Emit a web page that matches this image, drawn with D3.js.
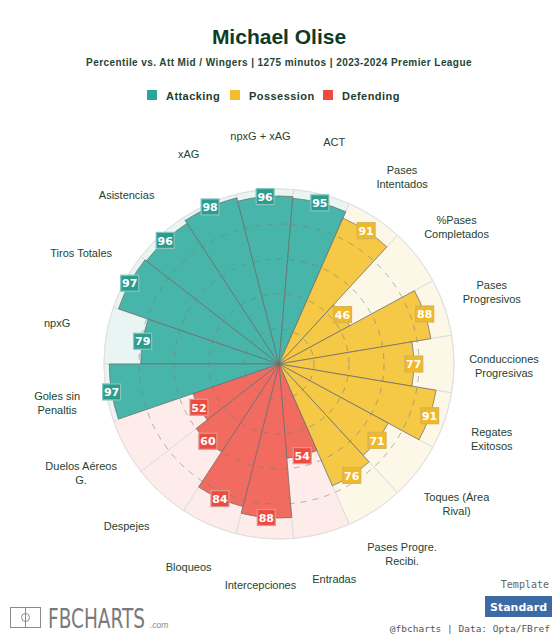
<!DOCTYPE html>
<html><head><meta charset="utf-8">
<script src="https://cdn.jsdelivr.net/npm/d3@7"></script>
<style>body{margin:0;background:#fff}svg{display:block}</style>
</head><body>
<svg id="c" width="558" height="640"></svg>
<script>
const title = "Michael Olise";
const subtitle = "Percentile vs. Att Mid / Wingers | 1275 minutos | 2023-2024 Premier League";
const groupNames = ["Attacking", "Possession", "Defending"];
// clockwise, starting at the left horizontal
const labels = ["npxG", "Tiros Totales", "Asistencias", "xAG", "npxG + xAG", "ACT",
  "Pases\nIntentados", "%Pases\nCompletados", "Pases\nProgresivos", "Conducciones\nProgresivas",
  "Regates\nExitosos", "Toques (Área\nRival)", "Pases Progre.\nRecibi.",
  "Entradas", "Intercepciones", "Bloqueos", "Despejes", "Duelos Aéreos\nG.", "Goles sin\nPenaltis"];
const values = [79, 97, 96, 98, 96, 95, 91, 46, 88, 77, 91, 71, 76, 54, 88, 84, 60, 52, 97];
const groups = ["Attacking","Attacking","Attacking","Attacking","Attacking","Attacking",
  "Possession","Possession","Possession","Possession","Possession","Possession","Possession",
  "Defending","Defending","Defending","Defending","Defending","Attacking"];
const gridTicks = [20, 40, 60, 80];

const legendColor = {Attacking:"#2aa59a", Possession:"#f3bd2c", Defending:"#f0493e"};
const barColor = {Attacking:"#48b5aa", Possession:"#f5c845", Defending:"#f26b60"};
const boxColor = {Attacking:"#2a9d8f", Possession:"#f1b928", Defending:"#ee4a3e"};
const boxStroke = {Attacking:"#86c4bc", Possession:"#d6b458", Defending:"#d99a93"};
const bgColor = {Attacking:"#e9f5f3", Possession:"#fdf7e7", Defending:"#fdecea"};

const svg = d3.select("#c");
const cx = 279, cy = 364, R = 175;
const idx = d3.range(labels.length);
const ang = d3.scaleBand().domain(idx).range([-Math.PI/2, 3*Math.PI/2]).padding(0);
const rad = d3.scaleLinear().domain([0, 100]).range([0, R]);

// Title
svg.append("text").attr("x", 279).attr("y", 44).attr("text-anchor","middle")
  .attr("font-family","Liberation Sans, Arial, sans-serif").attr("font-weight","bold")
  .attr("font-size", 21).attr("fill","#0f3b25").text(title);
svg.append("text").attr("x", 279).attr("y", 66).attr("text-anchor","middle")
  .attr("font-family","Liberation Sans, Arial, sans-serif").attr("font-weight","bold")
  .attr("font-size", 10).attr("letter-spacing", 0.42).attr("fill","#234635").text(subtitle);

// Legend
const legX = [147, 230, 323];
const lg = svg.append("g");
groupNames.forEach((g, i) => {
  lg.append("rect").attr("x", legX[i]).attr("y", 90).attr("width", 10).attr("height", 10).attr("fill", legendColor[g]);
  lg.append("text").attr("x", legX[i] + 19).attr("y", 99.5)
    .attr("font-family","Liberation Sans, Arial, sans-serif").attr("font-weight","bold")
    .attr("font-size", 11).attr("letter-spacing", 0.45).attr("fill","#1d3d2d").text(g);
});

const chart = svg.append("g").attr("transform", `translate(${cx},${cy})`);
const arc = d3.arc().innerRadius(0);
function wedge(i, r){
  return arc({startAngle: ang(i), endAngle: ang(i) + ang.bandwidth(), outerRadius: r});
}

chart.selectAll("path.bg").data(idx).join("path").attr("class","bg")
  .attr("d", i => wedge(i, R)).attr("fill", i => bgColor[groups[i]])
  .attr("stroke", "#dedede").attr("stroke-width", 1);

chart.selectAll("path.bar").data(idx).join("path").attr("class","bar")
  .attr("d", i => wedge(i, rad(values[i]))).attr("fill", i => barColor[groups[i]])
  .attr("stroke", "#6e6e6e").attr("stroke-opacity", 0.75).attr("stroke-width", 1);

chart.selectAll("circle.grid").data(gridTicks).join("circle").attr("class","grid")
  .attr("r", d => rad(d)).attr("fill","none").attr("stroke","#7a7a7a")
  .attr("stroke-opacity", 0.55).attr("stroke-width", 1).attr("stroke-dasharray","6,6");

chart.append("circle").attr("r", R).attr("fill","none").attr("stroke","#e2e2e2").attr("stroke-width",1);

// value boxes
const bw = 18, bh = 16;
const boxes = chart.selectAll("g.box").data(idx).join("g").attr("class","box")
  .attr("transform", i => {
    const a = ang(i) + ang.bandwidth()/2, r = rad(values[i]);
    return `translate(${r*Math.sin(a)},${-r*Math.cos(a)})`;
  });
boxes.append("rect").attr("x", -bw/2).attr("y", -bh/2).attr("width", bw).attr("height", bh)
  .attr("fill", i => boxColor[groups[i]]).attr("stroke", i => boxStroke[groups[i]]).attr("stroke-width", 1.2);
boxes.append("text").attr("text-anchor","middle").attr("y", 4.2)
  .attr("font-family","DejaVu Sans, Verdana, sans-serif").attr("font-weight","bold")
  .attr("font-size", 11).attr("fill","#fff").text(i => values[i]);

// category labels
const LR = 225;
chart.selectAll("text.lab").data(idx).join("text").attr("class","lab")
  .attr("text-anchor","middle")
  .attr("font-family","Liberation Sans, Arial, sans-serif").attr("font-size", 11).attr("fill","#1e4330")
  .each(function(i){
    const a = ang(i) + ang.bandwidth()/2;
    const x = LR*Math.sin(a), y = -LR*Math.cos(a);
    const lines = labels[i].split("\n");
    const y0 = y + 0.5 - (lines.length > 1 ? 2 : 0);
    d3.select(this).selectAll("tspan").data(lines).join("tspan")
      .attr("x", x).attr("y", (d, k) => y0 + k*14).text(d => d);
  });

// footer
svg.append("text").attr("x", 549).attr("y", 588).attr("text-anchor","end")
  .attr("font-family","DejaVu Sans Mono, monospace").attr("font-size", 10).attr("fill","#666").text("Template");
svg.append("rect").attr("x", 485).attr("y", 596).attr("width", 67).attr("height", 21).attr("fill","#3c6aa4");
svg.append("text").attr("x", 518.5).attr("y", 611).attr("text-anchor","middle")
  .attr("font-family","DejaVu Sans, sans-serif").attr("font-weight","bold").attr("font-size", 11)
  .attr("fill","#fff").text("Standard");
svg.append("text").attr("x", 550).attr("y", 632).attr("text-anchor","end")
  .attr("font-family","DejaVu Sans Mono, monospace").attr("font-size", 9.5).attr("fill","#555")
  .text("@fbcharts | Data: Opta/FBref");

// logo
const logo = svg.append("g");
logo.append("rect").attr("x", 10.5).attr("y", 607.5).attr("width", 30).attr("height", 20)
  .attr("fill","none").attr("stroke","#8a8a8a").attr("stroke-width", 1);
logo.append("line").attr("x1", 25.5).attr("x2", 25.5).attr("y1", 607.5).attr("y2", 627.5).attr("stroke","#8a8a8a");
logo.append("circle").attr("cx", 25.5).attr("cy", 617.5).attr("r", 4).attr("fill","none").attr("stroke","#8a8a8a");
const fb = logo.append("text").attr("x", 0).attr("y", 0)
  .attr("font-family","DejaVu Sans Condensed, DejaVu Sans, sans-serif").attr("font-size", 27)
  .attr("fill","#7a7a7a").text("FBCHARTS");
const fbLen = fb.node().getComputedTextLength() || 125;
fb.attr("transform", `translate(48,628) scale(${97/fbLen},1)`);
logo.append("text").attr("x", 150).attr("y", 628).attr("font-family","Liberation Sans, Arial, sans-serif")
  .attr("font-style","italic").attr("font-size", 8.5).attr("fill","#8a8a8a").text(".com");
</script>
</body></html>
